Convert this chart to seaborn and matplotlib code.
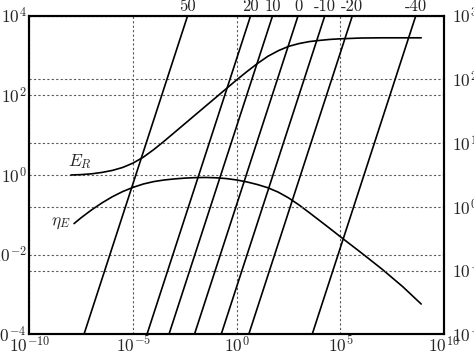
import numpy as np
import pandas as pd
import matplotlib
matplotlib.use("Agg")
import matplotlib.pyplot as plt
import matplotlib.ticker as mticker
import matplotlib.transforms as mtransforms
import seaborn as sns

# ---- data (log10 values) ----
# storage modulus curve E_R (left axis)
er_logx = [-8.0, -7.5, -7.0, -6.5, -6.0, -5.5, -5.0, -4.5, -4.0, -3.5, -3.0, -2.5, -2.0, -1.5, -1.0,
           -0.5, 0.0, 0.5, 1.0, 1.5, 2.0, 2.5, 3.0, 3.5, 4.0, 4.5, 5.0, 5.5, 6.0, 7.0, 8.9]
er_logy = [0.0, 0.01, 0.03, 0.065, 0.115, 0.19, 0.30, 0.45, 0.64, 0.85, 1.07, 1.29, 1.51, 1.73, 1.95,
           2.17, 2.39, 2.60, 2.80, 2.98, 3.12, 3.23, 3.30, 3.35, 3.38, 3.405, 3.42, 3.43, 3.44, 3.445,
           3.445]

# loss factor curve eta_E (left axis)
eta_logx = [-7.85, -7.5, -7.0, -6.5, -6.0, -5.5, -5.0, -4.5, -4.0, -3.5, -3.0, -2.5, -2.0, -1.5, -1.0,
            -0.5, 0.0, 0.5, 1.0, 1.5, 2.0, 2.5, 3.0, 3.5, 4.0, 4.5, 5.0, 6.0, 7.0, 8.0, 8.9]
eta_logy = [-1.22, -1.07, -0.875, -0.70, -0.545, -0.415, -0.31, -0.225, -0.165, -0.125, -0.098, -0.078,
            -0.066, -0.062, -0.07, -0.09, -0.125, -0.175, -0.24, -0.32, -0.43, -0.575, -0.75, -0.945,
            -1.145, -1.345, -1.55, -1.95, -2.36, -2.80, -3.24]

# temperature isotherms: log10 of shift factor aT (right axis, f = fR / aT)
temps = ["50", "20", "10", "0", "-10", "-20", "-40"]
log_aT = [-5.37, -2.33, -1.27, -0.04, 1.25, 2.58, 5.64]
f_range = [1e-2, 1e3]

x_ticks = [1e-10, 1e-5, 1e0, 1e5, 1e10]
left_ticks = [1e-4, 1e-2, 1e0, 1e2, 1e4]
right_ticks = [1e-2, 1e-1, 1e0, 1e1, 1e2, 1e3]

curves = pd.DataFrame({
    "x": [10 ** v for v in er_logx + eta_logx],
    "y": [10 ** v for v in er_logy + eta_logy],
    "curve": ["E_R"] * len(er_logx) + ["eta_E"] * len(eta_logx),
})
iso = pd.DataFrame({
    "x": [10 ** a * f for a in log_aT for f in f_range],
    "y": [f for a in log_aT for f in f_range],
    "T": [t for t in temps for f in f_range],
})

sns.set_style("white")
plt.rcParams["mathtext.fontset"] = "cm"

fig = plt.figure(figsize=(4.74, 3.53), dpi=100)
ax = fig.add_axes([0.0622, 0.053, 0.8745, 0.9025])
ax2 = ax.twinx()

grid_kw = dict(linestyle=(0, (2, 2)), color="0.35", linewidth=0.8)

sns.lineplot(data=curves, x="x", y="y", units="curve", estimator=None, sort=False,
             color="black", linewidth=1.2, ax=ax)
sns.lineplot(data=iso, x="x", y="y", units="T", estimator=None, sort=False,
             color="black", linewidth=1.2, ax=ax2)

for a in (ax, ax2):
    a.set_xscale("log")
    a.set_yscale("log")
    a.set_xlim(1e-10, 1e10)
    a.set_xlabel("")
    a.set_ylabel("")
    for s in a.spines.values():
        s.set_linewidth(1.5)
        s.set_color("black")

ax.set_ylim(1e-4, 1e4)
ax2.set_ylim(1e-2, 1e3)

fmt = mticker.FuncFormatter(lambda v, p: r"$10^{%d}$" % int(round(np.log10(v))))
ax.xaxis.set_major_locator(mticker.FixedLocator(x_ticks))
ax.yaxis.set_major_locator(mticker.FixedLocator(left_ticks))
ax2.yaxis.set_major_locator(mticker.FixedLocator(right_ticks))
for axis in (ax.xaxis, ax.yaxis, ax2.yaxis):
    axis.set_major_formatter(fmt)
    axis.set_minor_locator(mticker.NullLocator())

ax.tick_params(axis="x", length=0, pad=1, labelsize=12.5)
ax.tick_params(axis="y", length=0, pad=2, labelsize=12.5)
ax2.tick_params(axis="y", length=0, pad=6, labelsize=12.5)

ax.grid(True, **grid_kw)
ax2.grid(True, axis="y", **grid_kw)
ax2.grid(False, axis="x")

# curve labels
ax.text(10 ** -7.56, 10 ** 0.35, r"$E_R$", ha="center", va="center", fontsize=12.5)
ax.text(10 ** -8.46, 10 ** -1.18, r"$\eta_E$", ha="center", va="center", fontsize=12.5)

# temperature labels above each isotherm
trans = mtransforms.blended_transform_factory(ax2.transData, ax2.transAxes)
for t, a in zip(temps, log_aT):
    ax2.text(10 ** a * f_range[1], 1.006, t, transform=trans, ha="center", va="bottom",
             fontsize=12, family="cmr10", clip_on=False)

fig.savefig("out.png", dpi=100)
